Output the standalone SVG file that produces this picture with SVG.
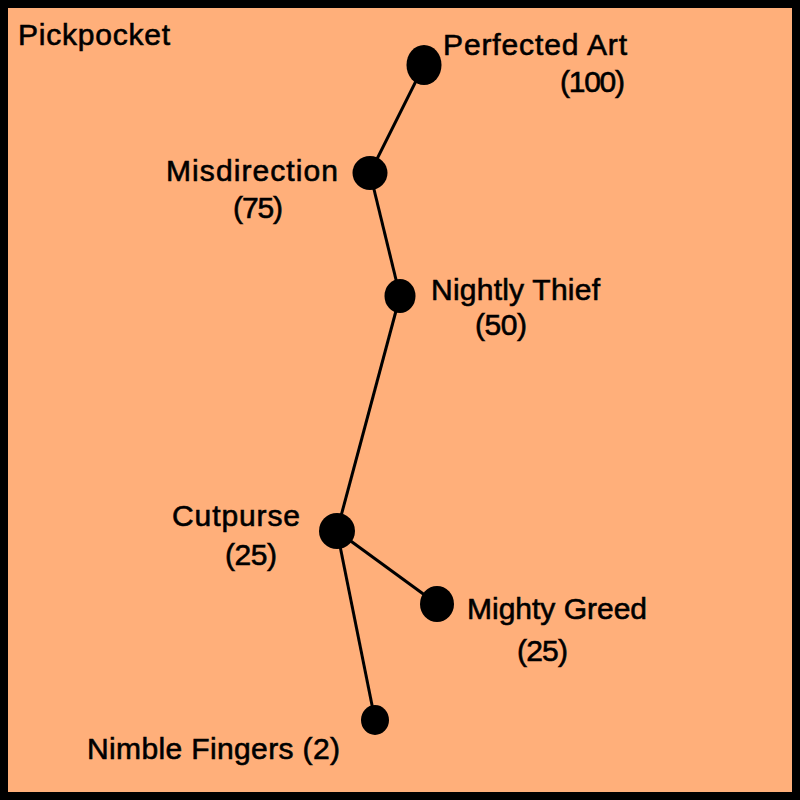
<svg xmlns="http://www.w3.org/2000/svg" width="800" height="800" viewBox="0 0 800 800">
<style>
.t{font-family:"Liberation Sans",Arial,sans-serif;font-size:30px;fill:#000;stroke:#000;stroke-width:0.6}
.n{fill:#000}
.c line{stroke:#000;stroke-width:3}
</style>
<rect x="4" y="4" width="792" height="792" fill="#FFAF7A" stroke="#000" stroke-width="8"/>
<text class="t" x="18" y="45" textLength="152">Pickpocket</text>
<g class="c" id="connectors">
<line x1="424" y1="65" x2="370" y2="173"/>
<line x1="370" y1="173" x2="400" y2="296"/>
<line x1="400" y1="296" x2="337" y2="531"/>
<line x1="337" y1="531" x2="437" y2="604"/>
<line x1="337" y1="531" x2="375" y2="720"/>
</g>
<g id="perfected-art">
<ellipse class="n" cx="424" cy="65" rx="17.5" ry="20"/>
<text class="t" x="443" y="55" textLength="184">Perfected Art</text>
<text class="t" x="560" y="92" textLength="65">(100)</text>
</g>
<g id="misdirection">
<ellipse class="n" cx="370" cy="173" rx="17.5" ry="17"/>
<text class="t" x="166" y="181" textLength="172">Misdirection</text>
<text class="t" x="233" y="218" textLength="50">(75)</text>
</g>
<g id="nightly-thief">
<ellipse class="n" cx="400" cy="296" rx="15.5" ry="17"/>
<text class="t" x="431" y="300" textLength="169">Nightly Thief</text>
<text class="t" x="475" y="335" textLength="52">(50)</text>
</g>
<g id="cutpurse">
<ellipse class="n" cx="337" cy="531" rx="18" ry="18"/>
<text class="t" x="172" y="526" textLength="128">Cutpurse</text>
<text class="t" x="225" y="565" textLength="52">(25)</text>
</g>
<g id="mighty-greed">
<ellipse class="n" cx="437" cy="604" rx="17" ry="18"/>
<text class="t" x="467" y="619" textLength="180">Mighty Greed</text>
<text class="t" x="517" y="661" textLength="51">(25)</text>
</g>
<g id="nimble-fingers">
<ellipse class="n" cx="375" cy="720" rx="14" ry="15"/>
<text class="t" x="87" y="759" textLength="253">Nimble Fingers (2)</text>
</g>
</svg>
